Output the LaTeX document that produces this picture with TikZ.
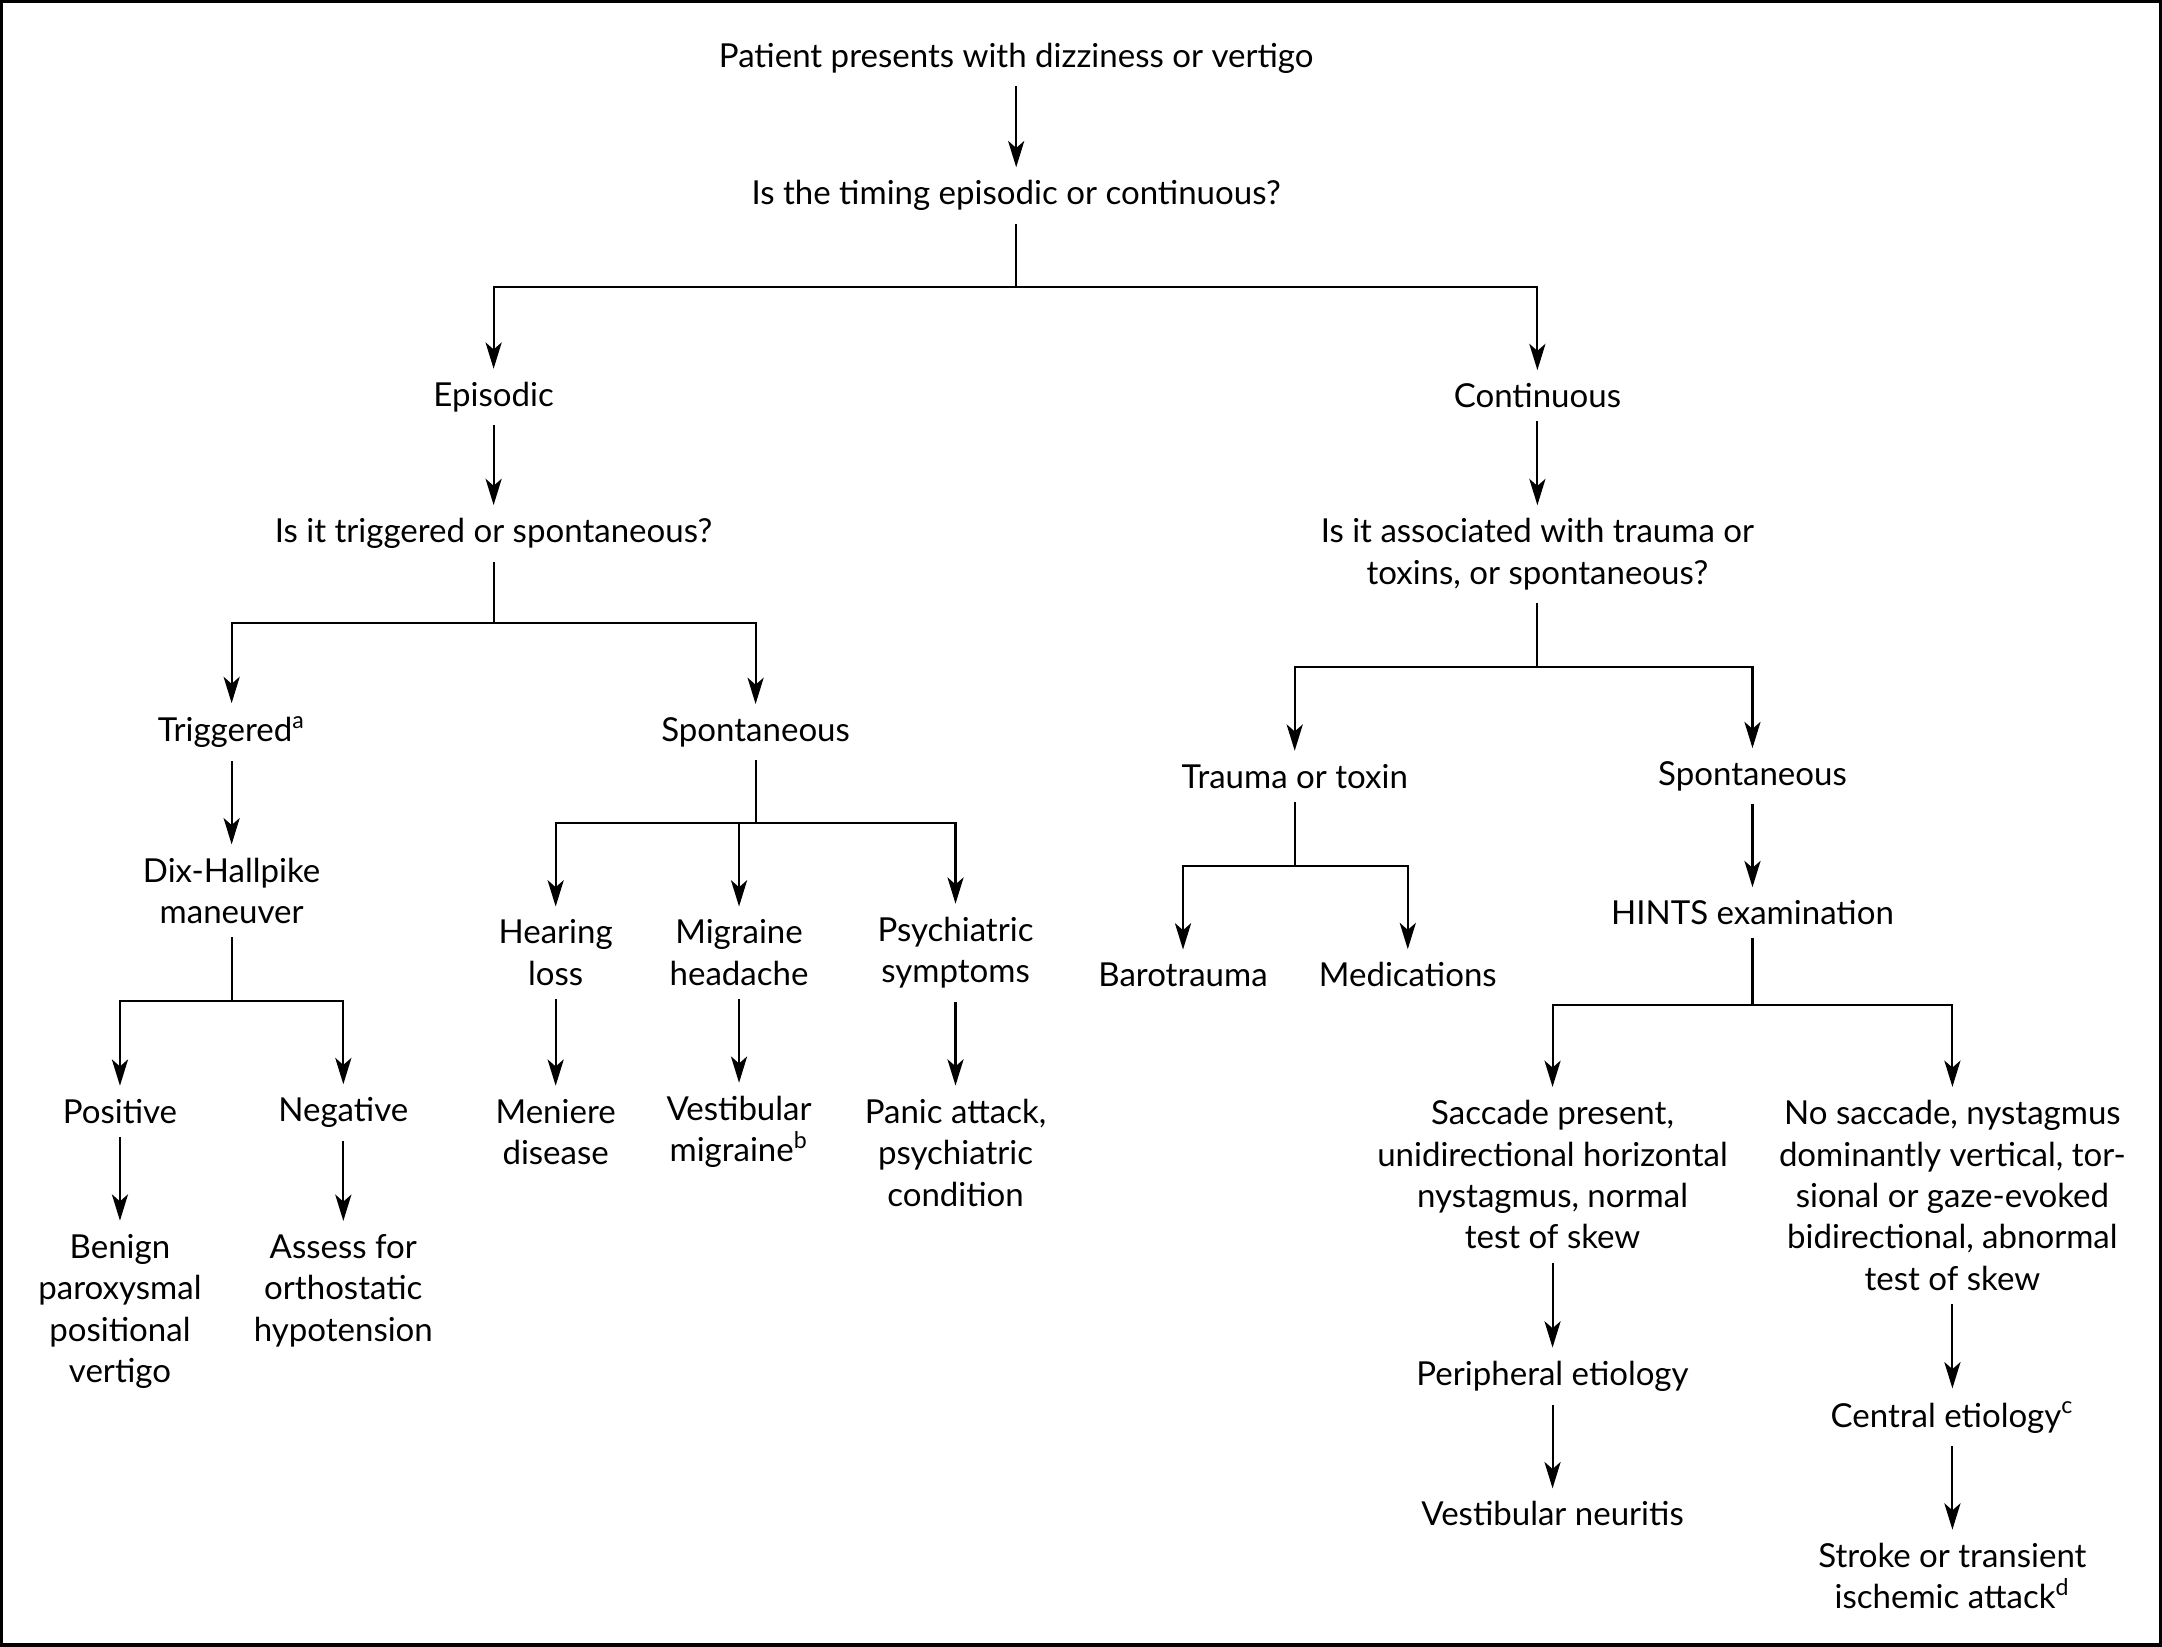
\documentclass[tikz,border=0pt]{standalone}
\usepackage{fontspec}
\setmainfont{Lato}
\usetikzlibrary{arrows.meta}
\tikzset{
  txt/.style={align=center, inner xsep=2pt, inner ysep=3.5pt, font=\fontsize{9.4}{11.8}\selectfont},
  arr/.style={-{Stealth[length=7.5pt, width=4.6pt, inset=2pt]}},
}
\begin{document}
\begin{tikzpicture}[x=0.013788cm, y=-0.013788cm, line width=0.6pt]
\useasboundingbox (0,0) rectangle (1568,1194);
\draw[line width=0.9pt] (1,1) rectangle (1567,1193);
% top
\node[txt] (start) at (737,42) {Patient presents with dizziness or vertigo};
\node[txt] (timing) at (737,142) {Is the timing episodic or continuous?};
\node[txt] (episodic) at (358,288) {Episodic};
\node[txt] (continuous) at (1115,287) {Continuous};
\coordinate (b1) at (737,208);
\draw[arr] (start) -- (timing);
\draw (timing) -- (b1);
\draw[arr] (b1) -| (episodic);
\draw[arr] (b1) -| (continuous);
% episodic side
\node[txt] (trigq) at (358,387) {Is it triggered or spontaneous?};
\node[txt] (triggered) at (168,531) {Triggered\textsuperscript{a}};
\node[txt] (spont) at (548,531) {Spontaneous};
\node[txt] (dix) at (168,646) {Dix-Hallpike\\maneuver};
\node[txt] (positive) at (87,806) {Positive};
\node[txt] (negative) at (249,807) {Negative};
\node[txt] (bppv) at (87,951) {Benign\\paroxysmal\\positional\\vertigo};
\node[txt] (assess) at (249,936) {Assess for\\orthostatic\\hypotension};
\coordinate (b2) at (358,452);
\coordinate (b3) at (168,726);
\draw[arr] (episodic) -- (trigq);
\draw (trigq) -- (b2);
\draw[arr] (b2) -| (triggered);
\draw[arr] (b2) -| (spont);
\draw[arr] (triggered) -- (dix);
\draw (dix) -- (b3);
\draw[arr] (b3) -| (positive);
\draw[arr] (b3) -| (negative);
\draw[arr] (positive) -- (bppv);
\draw[arr] (negative) -- (assess);
\node[txt] (hearing) at (403,691) {Hearing\\loss};
\node[txt] (migraine) at (536,691) {Migraine\\headache};
\node[txt] (psych) at (693,691) {Psychiatric\\symptoms};
\node[txt] (meniere) at (403,821) {Meniere\\disease};
\node[txt] (vestmig) at (536,821) {Vestibular\\migraine\textsuperscript{b}};
\node[txt] (panic) at (693,836) {Panic attack,\\psychiatric\\condition};
\coordinate (b4) at (548,597);
\draw (spont) -- (b4);
\draw[arr] (b4) -| (hearing);
\draw[arr] (b4) -| (psych);
\draw[arr] (migraine |- b4) -- (migraine);
\draw[arr] (hearing) -- (meniere);
\draw[arr] (migraine) -- (vestmig);
\draw[arr] (psych) -- (panic);
% continuous side
\node[txt] (assocq) at (1115,402) {Is it associated with trauma or\\toxins, or spontaneous?};
\node[txt] (trauma) at (939,563) {Trauma or toxin};
\node[txt] (spontc) at (1271,563) {Spontaneous};
\node[txt] (baro) at (858,707) {Barotrauma};
\node[txt] (meds) at (1021,707) {Medications};
\node[txt] (hints) at (1271,662) {HINTS examination};
\coordinate (b5) at (1115,484);
\coordinate (b6) at (939,628);
\coordinate (b7) at (1271,729);
\draw[arr] (continuous) -- (assocq);
\draw (assocq) -- (b5);
\draw[arr] (b5) -| (trauma);
\draw[arr] (b5) -| (spontc);
\draw (trauma) -- (b6);
\draw[arr] (b6) -| (baro);
\draw[arr] (b6) -| (meds);
\draw[arr] (spontc) -- (hints);
\node[txt] (saccade) at (1126,852) {Saccade present,\\unidirectional horizontal\\nystagmus, normal\\test of skew};
\node[txt] (nosaccade) at (1416,867) {No saccade, nystagmus\\dominantly vertical, tor-\\sional or gaze-evoked\\bidirectional, abnormal\\test of skew};
\node[txt] (periph) at (1126,998) {Peripheral etiology};
\node[txt] (neuritis) at (1126,1098) {Vestibular neuritis};
\node[txt] (central) at (1416,1028) {Central etiology\textsuperscript{c}};
\node[txt] (stroke) at (1416,1143) {Stroke or transient\\ischemic attack\textsuperscript{d}};
\draw (hints) -- (b7);
\draw[arr] (b7) -| (saccade);
\draw[arr] (b7) -| (nosaccade);
\draw[arr] (saccade) -- (periph);
\draw[arr] (periph) -- (neuritis);
\draw[arr] (nosaccade) -- (central);
\draw[arr] (central) -- (stroke);
\end{tikzpicture}
\end{document}
